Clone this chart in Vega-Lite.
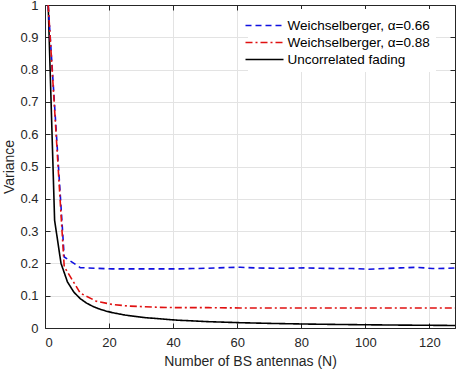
{
  "$schema": "https://vega.github.io/schema/vega-lite/v6.json",
  "autosize": "none",
  "width": 410,
  "height": 323,
  "padding": {"left": 45, "top": 5, "right": 19, "bottom": 57},
  "background": "white",
  "config": {
    "font": "Liberation Sans",
    "view": {"stroke": "#262626", "strokeWidth": 1},
    "axis": {
      "labelFont": "Liberation Sans",
      "titleFont": "Liberation Sans",
      "labelFontSize": 13,
      "titleFontSize": 14,
      "titleFontWeight": "normal",
      "labelColor": "#262626",
      "titleColor": "#262626",
      "gridColor": "#e3e3e3",
      "gridWidth": 1,
      "domainColor": "#262626",
      "tickColor": "#262626",
      "tickSize": -5
    },
    "legend": {
      "title": null, "orient": "none", "legendX": 203, "legendY": 4,
      "fillColor": "white", "padding": 6, "symbolType": "M-2,0H2",
      "symbolSize": 361, "symbolStrokeWidth": 1.6, "labelFontSize": 13.5,
      "labelFont": "Liberation Sans", "labelColor": "#000000", "rowPadding": -3, "labelOffset": 12.5
    }
  },
  "data": {
    "values": [
      {"N": 1, "v": 1.0, "s": "Uncorrelated fading"},
      {"N": 3, "v": 0.3333, "s": "Uncorrelated fading"},
      {"N": 5, "v": 0.2, "s": "Uncorrelated fading"},
      {"N": 7, "v": 0.1429, "s": "Uncorrelated fading"},
      {"N": 9, "v": 0.1111, "s": "Uncorrelated fading"},
      {"N": 11, "v": 0.0909, "s": "Uncorrelated fading"},
      {"N": 13, "v": 0.0769, "s": "Uncorrelated fading"},
      {"N": 15, "v": 0.0667, "s": "Uncorrelated fading"},
      {"N": 17, "v": 0.0588, "s": "Uncorrelated fading"},
      {"N": 19, "v": 0.0526, "s": "Uncorrelated fading"},
      {"N": 21, "v": 0.0476, "s": "Uncorrelated fading"},
      {"N": 25, "v": 0.04, "s": "Uncorrelated fading"},
      {"N": 31, "v": 0.0323, "s": "Uncorrelated fading"},
      {"N": 41, "v": 0.0244, "s": "Uncorrelated fading"},
      {"N": 51, "v": 0.0196, "s": "Uncorrelated fading"},
      {"N": 61, "v": 0.0164, "s": "Uncorrelated fading"},
      {"N": 71, "v": 0.0141, "s": "Uncorrelated fading"},
      {"N": 81, "v": 0.0123, "s": "Uncorrelated fading"},
      {"N": 91, "v": 0.011, "s": "Uncorrelated fading"},
      {"N": 101, "v": 0.0099, "s": "Uncorrelated fading"},
      {"N": 111, "v": 0.009, "s": "Uncorrelated fading"},
      {"N": 121, "v": 0.0083, "s": "Uncorrelated fading"},
      {"N": 128, "v": 0.0078, "s": "Uncorrelated fading"},

      {"N": 1, "v": 1.0, "s": "Weichselberger, α=0.66"},
      {"N": 6, "v": 0.22, "s": "Weichselberger, α=0.66"},
      {"N": 11, "v": 0.187, "s": "Weichselberger, α=0.66"},
      {"N": 16, "v": 0.185, "s": "Weichselberger, α=0.66"},
      {"N": 21, "v": 0.183, "s": "Weichselberger, α=0.66"},
      {"N": 26, "v": 0.183, "s": "Weichselberger, α=0.66"},
      {"N": 31, "v": 0.183, "s": "Weichselberger, α=0.66"},
      {"N": 36, "v": 0.183, "s": "Weichselberger, α=0.66"},
      {"N": 41, "v": 0.183, "s": "Weichselberger, α=0.66"},
      {"N": 46, "v": 0.184, "s": "Weichselberger, α=0.66"},
      {"N": 51, "v": 0.185, "s": "Weichselberger, α=0.66"},
      {"N": 56, "v": 0.187, "s": "Weichselberger, α=0.66"},
      {"N": 61, "v": 0.188, "s": "Weichselberger, α=0.66"},
      {"N": 66, "v": 0.186, "s": "Weichselberger, α=0.66"},
      {"N": 71, "v": 0.185, "s": "Weichselberger, α=0.66"},
      {"N": 76, "v": 0.185, "s": "Weichselberger, α=0.66"},
      {"N": 81, "v": 0.186, "s": "Weichselberger, α=0.66"},
      {"N": 86, "v": 0.185, "s": "Weichselberger, α=0.66"},
      {"N": 91, "v": 0.184, "s": "Weichselberger, α=0.66"},
      {"N": 96, "v": 0.184, "s": "Weichselberger, α=0.66"},
      {"N": 101, "v": 0.182, "s": "Weichselberger, α=0.66"},
      {"N": 106, "v": 0.184, "s": "Weichselberger, α=0.66"},
      {"N": 111, "v": 0.186, "s": "Weichselberger, α=0.66"},
      {"N": 116, "v": 0.188, "s": "Weichselberger, α=0.66"},
      {"N": 121, "v": 0.184, "s": "Weichselberger, α=0.66"},
      {"N": 126, "v": 0.185, "s": "Weichselberger, α=0.66"},
      {"N": 128, "v": 0.186, "s": "Weichselberger, α=0.66"},

      {"N": 1, "v": 1.0, "s": "Weichselberger, α=0.88"},
      {"N": 6, "v": 0.19, "s": "Weichselberger, α=0.88"},
      {"N": 11, "v": 0.108, "s": "Weichselberger, α=0.88"},
      {"N": 16, "v": 0.083, "s": "Weichselberger, α=0.88"},
      {"N": 21, "v": 0.073, "s": "Weichselberger, α=0.88"},
      {"N": 26, "v": 0.068, "s": "Weichselberger, α=0.88"},
      {"N": 31, "v": 0.066, "s": "Weichselberger, α=0.88"},
      {"N": 36, "v": 0.064, "s": "Weichselberger, α=0.88"},
      {"N": 41, "v": 0.063, "s": "Weichselberger, α=0.88"},
      {"N": 51, "v": 0.063, "s": "Weichselberger, α=0.88"},
      {"N": 61, "v": 0.062, "s": "Weichselberger, α=0.88"},
      {"N": 71, "v": 0.062, "s": "Weichselberger, α=0.88"},
      {"N": 81, "v": 0.062, "s": "Weichselberger, α=0.88"},
      {"N": 91, "v": 0.062, "s": "Weichselberger, α=0.88"},
      {"N": 101, "v": 0.062, "s": "Weichselberger, α=0.88"},
      {"N": 111, "v": 0.062, "s": "Weichselberger, α=0.88"},
      {"N": 121, "v": 0.062, "s": "Weichselberger, α=0.88"},
      {"N": 128, "v": 0.062, "s": "Weichselberger, α=0.88"}
    ]
  },
  "layer": [
    {
      "mark": {"type": "line", "strokeWidth": 1.6, "clip": true},
      "encoding": {
        "x": {"field": "N", "type": "quantitative",
              "scale": {"domain": [0, 128], "nice": false},
              "axis": {"title": "Number of BS antennas (N)", "values": [0, 20, 40, 60, 80, 100, 120],
                       "labelPadding": 13, "titlePadding": 5, "grid": true}},
        "y": {"field": "v", "type": "quantitative",
              "scale": {"domain": [0, 1], "nice": false},
              "axis": {"title": "Variance", "values": [0, 0.1, 0.2, 0.3, 0.4, 0.5, 0.6, 0.7, 0.8, 0.9, 1],
                       "labelExpr": "datum.value == 1 ? '1' : datum.value == 0 ? '0' : format(datum.value, '.1f')",
                       "labelPadding": 12, "titlePadding": 3, "grid": true}},
        "color": {"field": "s", "type": "nominal",
                  "scale": {"domain": ["Weichselberger, α=0.66", "Weichselberger, α=0.88", "Uncorrelated fading"],
                            "range": ["#1010e0", "#e01010", "#000000"]}},
        "strokeDash": {"field": "s", "type": "nominal",
                       "scale": {"domain": ["Weichselberger, α=0.66", "Weichselberger, α=0.88", "Uncorrelated fading"],
                                 "range": [[6, 4], [7, 3, 2, 3], [1, 0]]}}
      }
    },
    {
      "mark": {"type": "line", "opacity": 0},
      "encoding": {
        "x": {"field": "N", "type": "quantitative",
              "scale": {"domain": [0, 128], "nice": false},
              "axis": {"orient": "top", "title": null, "labels": false, "grid": false,
                       "values": [0, 20, 40, 60, 80, 100, 120]}},
        "y": {"field": "v", "type": "quantitative",
              "scale": {"domain": [0, 1], "nice": false},
              "axis": {"orient": "right", "title": null, "labels": false, "grid": false,
                       "values": [0, 0.1, 0.2, 0.3, 0.4, 0.5, 0.6, 0.7, 0.8, 0.9, 1]}}
      }
    }
  ],
  "resolve": {"scale": {"x": "independent", "y": "independent"}}
}
